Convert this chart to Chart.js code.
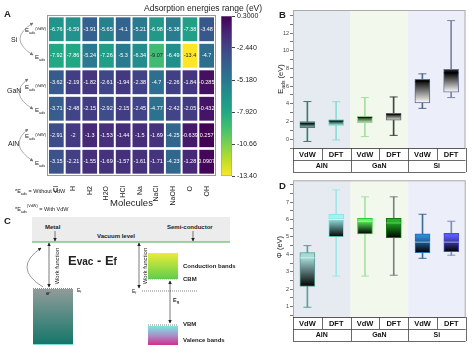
<!DOCTYPE html>
<html lang="en">
<head>
<meta charset="UTF-8" />
<title>Adsorption energies and work functions</title>
<script src="https://cdn.jsdelivr.net/npm/chart.js"></script>
<style>
  body { margin: 0; background: #fff; font-family: Arial, 'Liberation Sans', sans-serif; }
  #wrap { position: relative; width: 474px; height: 345px; overflow: hidden; }
  canvas, svg { position: absolute; }
  #heat { left: 0; top: 0; }
  #cbar { left: 215px; top: 0; }
  #boxAds { left: 270px; top: 0; }
  #boxPhi { left: 270px; top: 172px; }
  #overlay { left: 0; top: 0; pointer-events: none; }
  .cbTitle { position: absolute; left: 144px; top: 3px; font-size: 8.5px; color: #222; white-space: nowrap; }
  svg text { fill: #222; font-family: Arial, 'Liberation Sans', sans-serif; }
  .b6 { font-size: 6px; font-weight: bold; }
</style>
</head>
<body>
<div id="wrap">
  <canvas id="heat" width="285" height="209"></canvas>
  <canvas id="cbar" width="60" height="190"></canvas>
  <canvas id="boxAds" width="204" height="175"></canvas>
  <canvas id="boxPhi" width="204" height="173"></canvas>
  <div class="cbTitle">Adsorption energies range (eV)</div>

  <svg id="overlay" width="474" height="345" viewBox="0 0 474 345">
    <defs>
      <marker id="ah" viewBox="0 0 6 6" refX="5" refY="3" markerUnits="userSpaceOnUse" markerWidth="3.5" markerHeight="3.5" orient="auto-start-reverse">
        <path d="M0,0 L6,3 L0,6 z" fill="#222"/>
      </marker>
      <marker id="ahg" viewBox="0 0 6 6" refX="5" refY="3" markerUnits="userSpaceOnUse" markerWidth="3.5" markerHeight="3.5" orient="auto-start-reverse">
        <path d="M0,0 L6,3 L0,6 z" fill="#777"/>
      </marker>
      <linearGradient id="metalG" x1="0" y1="0" x2="0" y2="1">
        <stop offset="0" stop-color="#909c9a"/><stop offset="1" stop-color="#137669"/>
      </linearGradient>
      <linearGradient id="cbG" x1="0" y1="0" x2="0" y2="1">
        <stop offset="0" stop-color="#ecec3a"/><stop offset="1" stop-color="#5ecf4a"/>
      </linearGradient>
      <linearGradient id="vbG" x1="0" y1="0" x2="0" y2="1">
        <stop offset="0" stop-color="#7ee6e2"/><stop offset="0.5" stop-color="#a890c8"/><stop offset="1" stop-color="#d22e8c"/>
      </linearGradient>
    </defs>

    <!-- panel letters -->
    <text x="4" y="17" font-size="9.5" font-weight="bold">A</text>
    <text x="279" y="18" font-size="9.5" font-weight="bold">B</text>
    <text x="4" y="224" font-size="9.5" font-weight="bold">C</text>
    <text x="279" y="189" font-size="9.5" font-weight="bold">D</text>

    <!-- row annotations of the heatmap -->
    <text x="11" y="42" font-size="7">Si</text>
    <text x="25" y="32" font-size="6">E<tspan font-size="3.8" dy="1.5">ads</tspan><tspan font-size="3.8" dy="-4">(VdW)</tspan></text>
    <text x="35" y="59" font-size="6">E<tspan font-size="3.8" dy="1.5">ads</tspan></text>
    <path d="M33 23 Q 7 39 33 55" fill="none" stroke="#777" stroke-width="0.6" marker-start="url(#ahg)" marker-end="url(#ahg)"/>

    <text x="7" y="93" font-size="7">GaN</text>
    <text x="25" y="89" font-size="6">E<tspan font-size="3.8" dy="1.5">ads</tspan><tspan font-size="3.8" dy="-4">(VdW)</tspan></text>
    <text x="35" y="112" font-size="6">E<tspan font-size="3.8" dy="1.5">ads</tspan></text>
    <path d="M28 79 Q 8 94 33 109" fill="none" stroke="#777" stroke-width="0.6" marker-start="url(#ahg)" marker-end="url(#ahg)"/>

    <text x="8" y="146" font-size="7">AlN</text>
    <text x="25" y="138" font-size="6">E<tspan font-size="3.8" dy="1.5">ads</tspan><tspan font-size="3.8" dy="-4">(VdW)</tspan></text>
    <text x="35" y="165" font-size="6">E<tspan font-size="3.8" dy="1.5">ads</tspan></text>
    <path d="M28 129 Q 8 145 33 161" fill="none" stroke="#777" stroke-width="0.6" marker-start="url(#ahg)" marker-end="url(#ahg)"/>

    <!-- footnotes -->
    <text x="15" y="193" font-size="5.5">*E<tspan font-size="3.8" dy="1.5">ads</tspan><tspan dy="-1.5"> = Without VdW</tspan></text>
    <text x="15" y="211" font-size="5.5">*E<tspan font-size="3.8" dy="1.5">ads</tspan><tspan font-size="3.8" dy="-5.5">(VdW)</tspan><tspan dy="4"> = With VdW</tspan></text>

    <!-- axis titles of the box plots -->
    <text transform="translate(283,79) rotate(-90)" text-anchor="middle" font-size="7.5">E<tspan font-size="5" dy="1.5">ads</tspan><tspan dy="-1.5"> (eV)</tspan></text>
    <text transform="translate(282,247) rotate(-90)" text-anchor="middle" font-size="7.5">Φ (eV)</text>

    <!-- work function schematic -->
    <rect x="32" y="217" width="198" height="25" fill="#ececec"/>
    <line x1="32" y1="242" x2="230" y2="242" stroke="#46b04a" stroke-width="1.2"/>
    <text x="45" y="229" class="b6">Metal</text>
    <text x="167" y="229" class="b6">Semi-conductor</text>
    <text x="97" y="238" class="b6">Vacuum level</text>
    <line x1="55" y1="231" x2="55" y2="241" stroke="#222" stroke-width="0.6" marker-end="url(#ah)"/>
    <line x1="193" y1="231" x2="193" y2="241" stroke="#222" stroke-width="0.6" marker-end="url(#ah)"/>

    <line x1="49" y1="243" x2="49" y2="287" stroke="#222" stroke-width="0.6" marker-start="url(#ah)" marker-end="url(#ah)"/>
    <text transform="translate(58.5,266) rotate(-90)" text-anchor="middle" font-size="6">Work function</text>
    <path d="M43 287 Q 12 268 41 248" fill="none" stroke="#555" stroke-width="0.6" marker-end="url(#ah)"/>
    <rect x="33" y="289" width="40" height="56" fill="url(#metalG)"/>
    <line x1="33" y1="344.5" x2="73" y2="344.5" stroke="#7fe0d8" stroke-width="1"/>
    <line x1="33" y1="288.5" x2="73" y2="288.5" stroke="#333" stroke-width="0.6" stroke-dasharray="1 1"/>
    <text x="77" y="292" font-size="5">E<tspan font-size="3.5" dy="1">f</tspan></text>
    <text x="46" y="295" font-size="6" font-weight="bold">e<tspan font-size="4" dy="-2">-</tspan></text>
    <text x="68" y="265" font-size="13" font-weight="bold">E<tspan font-size="10">vac</tspan> - E<tspan font-size="10">f</tspan></text>

    <line x1="139" y1="243" x2="139" y2="288" stroke="#222" stroke-width="0.6" marker-start="url(#ah)" marker-end="url(#ah)"/>
    <text transform="translate(147,266) rotate(-90)" text-anchor="middle" font-size="6">Work function</text>
    <text x="132" y="293" font-size="5">E<tspan font-size="3.5" dy="1">f</tspan></text>
    <line x1="142" y1="291" x2="198" y2="291" stroke="#333" stroke-width="0.6" stroke-dasharray="1 1"/>
    <rect x="148" y="253" width="30" height="26" fill="url(#cbG)"/>
    <line x1="148" y1="279" x2="178" y2="279" stroke="#46b04a" stroke-width="0.6" stroke-dasharray="1 1"/>
    <text x="183" y="268" class="b6">Conduction bands</text>
    <text x="183" y="281" class="b6">CBM</text>
    <line x1="170" y1="281" x2="170" y2="323" stroke="#222" stroke-width="0.6" marker-start="url(#ah)" marker-end="url(#ah)"/>
    <text x="173" y="302" font-size="5.5" font-weight="bold">E<tspan font-size="3.8" dy="1">g</tspan></text>
    <line x1="148" y1="325" x2="178" y2="325" stroke="#333" stroke-width="0.6" stroke-dasharray="1 1"/>
    <text x="183" y="326" class="b6">VBM</text>
    <rect x="148" y="326" width="30" height="19" fill="url(#vbG)"/>
    <text x="183" y="342" class="b6">Valence bands</text>
  </svg>
</div>

<script>
  // heatmap: adsorption energies (eV) per molecule
  const molecules = ['Cl', 'H', 'H2', 'H2O', 'HCl', 'Na', 'NaCl', 'NaOH', 'O', 'OH'];
  const rowNames = ['Si VdW', 'Si', 'GaN VdW', 'GaN', 'AlN VdW', 'AlN'];
  const siVdw = [-6.76, -6.59, -3.91, -5.65, -4.1, -5.21, -6.98, -5.38, -7.38, -3.48];
  const siDft = [-7.92, -7.86, -5.24, -7.26, -5.3, -6.34, -9.07, -6.49, -13.4, -4.7];
  const ganVdw = [-3.62, -2.19, -1.82, -2.61, -1.94, -2.38, -4.7, -2.26, -1.84, -0.285];
  const ganDft = [-3.71, -2.48, -2.15, -2.92, -2.15, -2.45, -4.77, -2.42, -2.05, -0.432];
  const alnVdw = [-2.91, -2, -1.3, -1.53, -1.44, -1.5, -1.69, -4.25, -0.639, 0.257];
  const alnDft = [-3.15, -2.21, -1.55, -1.69, -1.57, -1.61, -1.71, -4.23, -1.28, 0.0907];
  const heatRows = [siVdw, siDft, ganVdw, ganDft, alnVdw, alnDft];

  // colorbar
  const eMin = -13.4, eMax = 0.3;
  const cbTicks = [-13.4, -10.66, -7.92, -5.18, -2.44, 0.3];
  const cbLabels = ['-13.40', '-10.66', '-7.920', '-5.180', '-2.440', '0.3000'];

  // box plots: columns and groups
  const boxCats = ['VdW', 'DFT', 'VdW', 'DFT', 'VdW', 'DFT'];
  const groups = ['AlN', 'GaN', 'Si'];

  // adsorption energy magnitudes (eV)
  const adsMin = [-0.26, -0.09, 0.29, 0.43, 3.48, 4.7];
  const adsQ1 = [1.3, 1.55, 1.84, 2.15, 4.1, 5.3];
  const adsMed = [1.75, 2.05, 2.45, 2.8, 6.5, 7.5];
  const adsQ3 = [2.0, 2.21, 2.61, 2.92, 6.76, 7.9];
  const adsMax = [4.25, 4.23, 4.7, 4.77, 7.38, 13.4];

  // work function (eV)
  const phiMin = [0.96, 2.75, 2.75, 2.8, 3.77, 3.95];
  const phiQ1 = [2.15, 5.0, 5.17, 4.95, 4.1, 4.15];
  const phiMed = [3.8, 6.0, 5.9, 5.8, 4.7, 4.7];
  const phiQ3 = [4.1, 6.3, 6.07, 6.07, 5.17, 5.2];
  const phiMax = [4.5, 7.7, 7.3, 7.3, 6.3, 5.9];

  const bandColors = ['#e6ebf1', '#f2f9ec', '#eceff9'];

  const viridisStops = ['#440154', '#482475', '#414487', '#355f8d', '#2a788e', '#21918c',
                        '#22a884', '#44bf70', '#7ad151', '#bddf26', '#fde725'];
  function hexRgb(h) {
    const n = parseInt(h.slice(1), 16);
    return [(n >> 16) & 255, (n >> 8) & 255, n & 255];
  }
  function viridis(t) {
    t = Math.min(1, Math.max(0, t));
    const p = t * (viridisStops.length - 1);
    const i = Math.min(Math.floor(p), viridisStops.length - 2), f = p - i;
    const a = hexRgb(viridisStops[i]), b = hexRgb(viridisStops[i + 1]);
    return `rgb(${a.map((c, k) => Math.round(c + (b[k] - c) * f)).join(',')})`;
  }
  const cellT = v => (eMax - v) / (eMax - eMin);

  const noLegend = { legend: { display: false }, tooltip: { enabled: false } };

  // value text in each cell + grey frame
  const heatLabels = {
    id: 'heatLabels',
    afterDatasetsDraw(chart) {
      const { ctx, chartArea: a } = chart;
      ctx.save();
      ctx.font = '5.5px Arial';
      ctx.textAlign = 'center';
      ctx.textBaseline = 'middle';
      chart.data.datasets.forEach((ds, r) => {
        chart.getDatasetMeta(r).data.forEach((el, i) => {
          const v = ds.values[i];
          ctx.fillStyle = cellT(v) > 0.65 ? '#222' : '#fff';
          ctx.fillText(String(v), el.x, (el.y + el.base) / 2);
        });
      });
      ctx.strokeStyle = '#999';
      ctx.lineWidth = 1;
      ctx.strokeRect(a.left - 0.5, a.top - 0.5, a.width + 1, a.height + 1);
      ctx.restore();
    }
  };

  new Chart(document.getElementById('heat'), {
    type: 'bar',
    data: {
      labels: molecules,
      datasets: heatRows.map((vals, r) => ({
        label: rowNames[r],
        values: vals,
        data: vals.map(() => [r + 0.05, r + 0.95]),
        backgroundColor: vals.map(v => viridis(cellT(v))),
        borderWidth: 0,
        barPercentage: 0.88,
        categoryPercentage: 1,
        grouped: false
      }))
    },
    options: {
      responsive: false,
      animation: false,
      layout: { padding: { left: 48, top: 16, right: 70, bottom: 0 } },
      plugins: noLegend,
      scales: {
        x: {
          grid: { display: false },
          border: { display: false },
          ticks: { minRotation: 90, maxRotation: 90, autoSkip: false, padding: 3, color: '#222', font: { size: 7 } },
          title: { display: true, text: 'Molecules', color: '#222', font: { size: 9.5 }, padding: 0 },
          afterFit: s => { s.height = 34; }
        },
        y: { display: false, min: 0, max: 6, reverse: true }
      }
    },
    plugins: [heatLabels]
  });

  new Chart(document.getElementById('cbar'), {
    type: 'bar',
    data: {
      labels: [''],
      datasets: [{
        data: [[eMin, eMax]],
        backgroundColor: ctx => {
          const a = ctx.chart.chartArea;
          if (!a) return viridisStops[5];
          const g = ctx.chart.ctx.createLinearGradient(0, a.top, 0, a.bottom);
          viridisStops.forEach((c, i) => g.addColorStop(i / (viridisStops.length - 1), c));
          return g;
        },
        borderColor: '#999',
        borderWidth: 0.8,
        borderSkipped: false,
        barPercentage: 1,
        categoryPercentage: 1
      }]
    },
    options: {
      responsive: false,
      animation: false,
      layout: { padding: { left: 6, top: 16, bottom: 14, right: 0 } },
      plugins: noLegend,
      scales: {
        x: { display: false },
        y: {
          position: 'right',
          min: eMin,
          max: eMax,
          grid: { drawOnChartArea: false, tickLength: 3, tickColor: '#444' },
          border: { display: false },
          afterBuildTicks: s => { s.ticks = cbTicks.map(v => ({ value: v })); },
          ticks: { autoSkip: false, padding: 2, color: '#222', font: { size: 7 }, callback: v => cbLabels[cbTicks.indexOf(v)] },
          afterFit: s => { s.width = 43; }
        }
      }
    }
  });

  // coloured group bands, plot frame and the two-row label table
  const groupTable = {
    id: 'groupTable',
    beforeDatasetsDraw(chart) {
      const { ctx, chartArea: a, scales: { x } } = chart;
      const half = a.width / boxCats.length / 2;
      ctx.save();
      groups.forEach((g, k) => {
        const l = x.getPixelForValue(2 * k) - half, r = x.getPixelForValue(2 * k + 1) + half;
        ctx.fillStyle = bandColors[k];
        ctx.fillRect(l, a.top, r - l, a.height);
      });
      ctx.restore();
    },
    afterDraw(chart) {
      const { ctx, chartArea: a, scales: { x } } = chart;
      const half = a.width / boxCats.length / 2, h = 12;
      ctx.save();
      ctx.strokeStyle = '#aaa';
      ctx.lineWidth = 1;
      ctx.strokeRect(a.left + 0.5, a.top + 0.5, a.width - 1, a.height);
      ctx.strokeStyle = '#444';
      ctx.lineWidth = 0.8;
      ctx.beginPath();
      [0, h, 2 * h].forEach(d => { ctx.moveTo(a.left, a.bottom + d + 0.5); ctx.lineTo(a.right, a.bottom + d + 0.5); });
      for (let i = 0; i <= boxCats.length; i++) {
        const px = Math.round(i < boxCats.length ? x.getPixelForValue(i) - half : a.right) + 0.5;
        ctx.moveTo(px, a.bottom);
        ctx.lineTo(px, a.bottom + (i % 2 === 0 ? 2 * h : h));
      }
      ctx.stroke();
      ctx.fillStyle = '#111';
      ctx.textAlign = 'center';
      ctx.textBaseline = 'middle';
      ctx.font = 'bold 7.5px Arial';
      boxCats.forEach((c, i) => ctx.fillText(c, x.getPixelForValue(i), a.bottom + h / 2 + 0.5));
      ctx.font = 'bold 7px Arial';
      groups.forEach((g, k) => {
        const cx = (x.getPixelForValue(2 * k) + x.getPixelForValue(2 * k + 1)) / 2;
        ctx.fillText(g, cx, a.bottom + h * 1.5 + 0.5);
      });
      ctx.restore();
    }
  };

  function boxFill(lo, hi, stopsFor) {
    return ctx => {
      const y = ctx.chart.scales.y;
      if (ctx.type !== 'data' || !y) return '#888';
      const i = ctx.dataIndex;
      const top = y.getPixelForValue(hi[i]), bottom = y.getPixelForValue(lo[i]);
      const stops = stopsFor(i);
      if (!isFinite(top) || !isFinite(bottom) || bottom - top < 1) return stops[0][1];
      const g = ctx.chart.ctx.createLinearGradient(0, top, 0, bottom);
      stops.forEach(([p, c]) => g.addColorStop(Math.min(1, Math.max(0, p)), c));
      return g;
    };
  }

  function boxChart(id, s) {
    return new Chart(document.getElementById(id), {
      type: 'bar',
      data: {
        labels: boxCats,
        datasets: [
          {
            type: 'line', data: s.med, showLine: false, order: 0,
            pointStyle: 'line', pointRadius: 7.5, pointBorderWidth: s.medWidth,
            pointBorderColor: s.medColor, pointBackgroundColor: s.medColor
          },
          {
            data: s.q1.map((v, i) => [v, s.q3[i]]), order: 1,
            backgroundColor: boxFill(s.q1, s.q3, s.stops),
            borderColor: s.border, borderWidth: 1, borderSkipped: false,
            barThickness: 15, grouped: false
          },
          {
            type: 'line', data: s.max, showLine: false, order: 2,
            pointStyle: 'line', pointRadius: 4, pointBorderWidth: 1, pointBorderColor: s.whisker
          },
          {
            type: 'line', data: s.min, showLine: false, order: 2,
            pointStyle: 'line', pointRadius: 4, pointBorderWidth: 1, pointBorderColor: s.whisker
          },
          {
            data: s.min.map((v, i) => [v, s.max[i]]), order: 3,
            backgroundColor: s.whisker, borderWidth: 0,
            barThickness: 1, grouped: false
          }
        ]
      },
      options: {
        responsive: false,
        animation: false,
        layout: { padding: { left: 0, top: s.padTop, right: 6, bottom: 0 } },
        plugins: noLegend,
        scales: {
          x: {
            ticks: { display: false },
            grid: { display: false },
            border: { display: false },
            afterFit: sc => { sc.height = s.axisH; }
          },
          y: {
            min: s.yMin,
            max: s.yMax,
            grid: { drawOnChartArea: false, tickLength: 3, tickColor: '#777' },
            border: { display: false },
            afterBuildTicks: sc => { sc.ticks = s.yTicks.map(v => ({ value: v })); },
            ticks: { autoSkip: false, padding: 1, color: '#444', font: { size: 5.5 }, callback: s.yLabel },
            afterFit: sc => { sc.width = 23; }
          }
        }
      },
      plugins: [groupTable]
    });
  }

  const adsTop = ['#7fa8a0', '#a8f0e8', '#b6e8ae', '#d8e4d0', '#000', '#333'];
  const adsDark = ['#0d2a26', '#10302c', '#1a3a18', '#1a1a1a', '#111', '#000'];
  const adsBottom = ['#9cc2ba', '#9eeee2', '#c4eebe', '#e0ecd8', '#fff', '#fff'];
  boxChart('boxAds', {
    min: adsMin, q1: adsQ1, med: adsMed, q3: adsQ3, max: adsMax,
    stops: i => [[0, adsTop[i]], [(adsQ3[i] - adsMed[i]) / (adsQ3[i] - adsQ1[i]), adsDark[i]], [1, adsBottom[i]]],
    border: ['#4d7f78', '#7cd8cc', '#9ad494', '#666', '#5a6a8c', '#6a7090'],
    whisker: ['#3f7a72', '#8adfd6', '#a8dca2', '#444', '#5a6a8c', '#7d85a8'],
    medColor: 'rgba(0,0,0,0.55)', medWidth: 1,
    padTop: 10, axisH: 27,
    yMin: -1, yMax: 14.6,
    yTicks: [-1, 0, 1, 2, 3, 4, 5, 6, 7, 8, 9, 10, 11, 12, 13, 14],
    yLabel: v => (v >= 0 && v <= 12 && v % 2 === 0 ? String(v) : '')
  });

  const phiTop = ['#a6dcd8', '#9ff4f4', '#5cf05c', '#22b422', '#2a88d8', '#5a5af5'];
  boxChart('boxPhi', {
    min: phiMin, q1: phiQ1, med: phiMed, q3: phiQ3, max: phiMax,
    stops: i => [[0, phiTop[i]], [0.15, phiTop[i]], [1, '#000']],
    border: ['#5a9a94', '#88e8e8', '#33cc33', '#117711', '#2570b0', '#4848d0'],
    whisker: ['#5e9f98', '#a0e8e6', '#a8e0a8', '#808080', '#3a6f9a', '#7d8eb8'],
    medColor: ['#d8f0ee', '#d8ffff', '#b8ffb8', '#77dd77', '#b8dcff', '#c8c8ff'], medWidth: 0.8,
    padTop: 5, axisH: 28,
    yMin: 0.4, yMax: 8.25,
    yTicks: [0.5, 1, 1.5, 2, 2.5, 3, 3.5, 4, 4.5, 5, 5.5, 6, 6.5, 7, 7.5, 8],
    yLabel: v => (Number.isInteger(v) && v < 8 ? String(v) : '')
  });
</script>
</body>
</html>
